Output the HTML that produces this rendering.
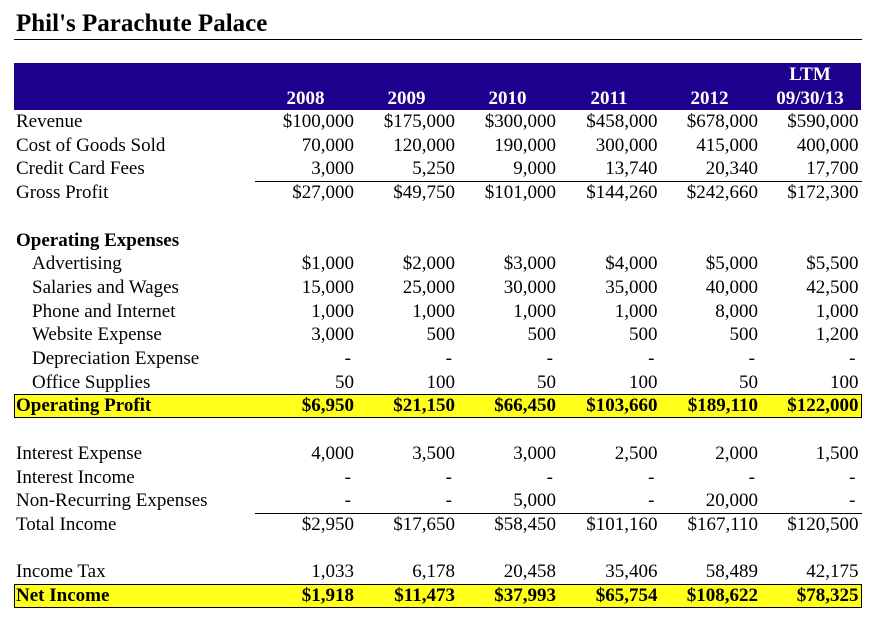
<!DOCTYPE html>
<html>
<head>
<meta charset="utf-8">
<style>
html,body{margin:0;padding:0;background:#fff;}
body{width:887px;height:631px;position:relative;overflow:hidden;font-family:"Liberation Serif","Times New Roman",serif;color:#000;}
.title{position:absolute;left:16px;top:11.4px;font-size:25px;line-height:25px;font-weight:bold;white-space:nowrap;}
.tline{position:absolute;left:14px;top:38.5px;width:848px;height:1px;background:#000;}
.hdr{position:absolute;left:14px;top:63px;width:847px;height:47px;background:#1e008e;}
.h{position:absolute;width:100px;text-align:center;font-size:19px;line-height:23.5px;height:23.5px;font-weight:bold;color:#fff;white-space:nowrap;}
.r{position:absolute;left:0;width:887px;height:23.7px;line-height:23.7px;font-size:19px;white-space:nowrap;}
.r span{position:absolute;}
.l{left:16px;}
.i{left:32px;}
.c1{right:533px;}
.c2{right:432px;}
.c3{right:331px;}
.c4{right:229.5px;}
.c5{right:129px;}
.c6{right:28.5px;}
.d{padding-right:3px;}
.b{font-weight:bold;}
.line{position:absolute;left:255px;width:607px;height:1px;background:#000;}
.hl{position:absolute;left:14px;width:848px;height:24.2px;background:#ffff1a;border:1px solid #000;box-sizing:border-box;}
</style>
</head>
<body>
<div class="title">Phil's Parachute Palace</div>
<div class="tline"></div>

<div class="hdr"></div>
<div class="h" style="left:760px;top:63px;">LTM</div>
<div class="h" style="left:255.5px;top:86.5px;">2008</div>
<div class="h" style="left:356.5px;top:86.5px;">2009</div>
<div class="h" style="left:457.5px;top:86.5px;">2010</div>
<div class="h" style="left:559px;top:86.5px;">2011</div>
<div class="h" style="left:659.5px;top:86.5px;">2012</div>
<div class="h" style="left:760px;top:86.5px;">09/30/13</div>

<div class="line" style="top:180.6px;"></div>
<div class="line" style="top:512.6px;"></div>
<div class="hl" style="top:394.2px;"></div>
<div class="hl" style="top:584px;"></div>

<div class="r" style="top:110px;"><span class="l">Revenue</span><span class="c1">$100,000</span><span class="c2">$175,000</span><span class="c3">$300,000</span><span class="c4">$458,000</span><span class="c5">$678,000</span><span class="c6">$590,000</span></div>
<div class="r" style="top:133.7px;"><span class="l">Cost of Goods Sold</span><span class="c1">70,000</span><span class="c2">120,000</span><span class="c3">190,000</span><span class="c4">300,000</span><span class="c5">415,000</span><span class="c6">400,000</span></div>
<div class="r" style="top:157.4px;"><span class="l">Credit Card Fees</span><span class="c1">3,000</span><span class="c2">5,250</span><span class="c3">9,000</span><span class="c4">13,740</span><span class="c5">20,340</span><span class="c6">17,700</span></div>
<div class="r" style="top:181.1px;"><span class="l">Gross Profit</span><span class="c1">$27,000</span><span class="c2">$49,750</span><span class="c3">$101,000</span><span class="c4">$144,260</span><span class="c5">$242,660</span><span class="c6">$172,300</span></div>

<div class="r" style="top:228.5px;"><span class="l b">Operating Expenses</span></div>
<div class="r" style="top:252.2px;"><span class="i">Advertising</span><span class="c1">$1,000</span><span class="c2">$2,000</span><span class="c3">$3,000</span><span class="c4">$4,000</span><span class="c5">$5,000</span><span class="c6">$5,500</span></div>
<div class="r" style="top:275.9px;"><span class="i">Salaries and Wages</span><span class="c1">15,000</span><span class="c2">25,000</span><span class="c3">30,000</span><span class="c4">35,000</span><span class="c5">40,000</span><span class="c6">42,500</span></div>
<div class="r" style="top:299.6px;"><span class="i">Phone and Internet</span><span class="c1">1,000</span><span class="c2">1,000</span><span class="c3">1,000</span><span class="c4">1,000</span><span class="c5">8,000</span><span class="c6">1,000</span></div>
<div class="r" style="top:323.3px;"><span class="i">Website Expense</span><span class="c1">3,000</span><span class="c2">500</span><span class="c3">500</span><span class="c4">500</span><span class="c5">500</span><span class="c6">1,200</span></div>
<div class="r" style="top:347px;"><span class="i">Depreciation Expense</span><span class="c1 d">-</span><span class="c2 d">-</span><span class="c3 d">-</span><span class="c4 d">-</span><span class="c5 d">-</span><span class="c6 d">-</span></div>
<div class="r" style="top:370.7px;"><span class="i">Office Supplies</span><span class="c1">50</span><span class="c2">100</span><span class="c3">50</span><span class="c4">100</span><span class="c5">50</span><span class="c6">100</span></div>
<div class="r b" style="top:394.4px;"><span class="l">Operating Profit</span><span class="c1">$6,950</span><span class="c2">$21,150</span><span class="c3">$66,450</span><span class="c4">$103,660</span><span class="c5">$189,110</span><span class="c6">$122,000</span></div>

<div class="r" style="top:441.8px;"><span class="l">Interest Expense</span><span class="c1">4,000</span><span class="c2">3,500</span><span class="c3">3,000</span><span class="c4">2,500</span><span class="c5">2,000</span><span class="c6">1,500</span></div>
<div class="r" style="top:465.5px;"><span class="l">Interest Income</span><span class="c1 d">-</span><span class="c2 d">-</span><span class="c3 d">-</span><span class="c4 d">-</span><span class="c5 d">-</span><span class="c6 d">-</span></div>
<div class="r" style="top:489.2px;"><span class="l">Non-Recurring Expenses</span><span class="c1 d">-</span><span class="c2 d">-</span><span class="c3">5,000</span><span class="c4 d">-</span><span class="c5">20,000</span><span class="c6 d">-</span></div>
<div class="r" style="top:512.9px;"><span class="l">Total Income</span><span class="c1">$2,950</span><span class="c2">$17,650</span><span class="c3">$58,450</span><span class="c4">$101,160</span><span class="c5">$167,110</span><span class="c6">$120,500</span></div>

<div class="r" style="top:560.3px;"><span class="l">Income Tax</span><span class="c1">1,033</span><span class="c2">6,178</span><span class="c3">20,458</span><span class="c4">35,406</span><span class="c5">58,489</span><span class="c6">42,175</span></div>
<div class="r b" style="top:584px;"><span class="l">Net Income</span><span class="c1">$1,918</span><span class="c2">$11,473</span><span class="c3">$37,993</span><span class="c4">$65,754</span><span class="c5">$108,622</span><span class="c6">$78,325</span></div>
</body>
</html>
